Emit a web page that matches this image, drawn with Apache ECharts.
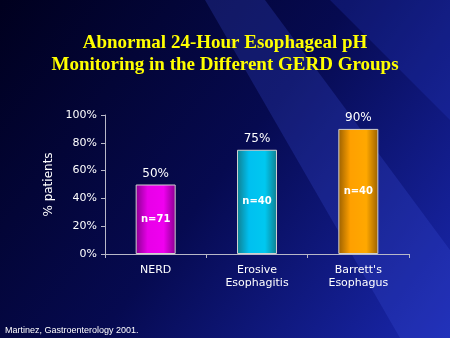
<!DOCTYPE html>
<html><head><meta charset="utf-8">
<script src="https://cdn.jsdelivr.net/npm/echarts@6/dist/echarts.min.js"></script>
<style>html,body{margin:0;padding:0;background:#000028;}#c{width:450px;height:338px;}</style>
</head><body><div id="c"></div>
<script>
const categories = ["NERD", "Erosive\nEsophagitis", "Barrett's\nEsophagus"];
const values = [50, 75, 90];
const nLabels = ["n=71", "n=40", "n=40"];
const yTicks = ["0%", "20%", "40%", "60%", "80%", "100%"];
const barColors = [
  ["#8a0090", "#e800e8", "#f000f0", "#8a0090"],
  ["#107f90", "#00c0f0", "#00c8f0", "#107f90"],
  ["#9a6000", "#ffa000", "#ffa800", "#9a6000"]
];
function grad(c){return new echarts.graphic.LinearGradient(0,0,1,0,[
  {offset:0,color:c[0]},{offset:0.3,color:c[1]},{offset:0.7,color:c[2]},{offset:1,color:c[3]}]);}
const chart = echarts.init(document.getElementById('c'), null, {renderer:'canvas'});
chart.setOption({
  animation:false,
  backgroundColor: new echarts.graphic.LinearGradient(0,0,1,1,[
    {offset:0,color:'#00001e'},{offset:0.5,color:'#060a50'},{offset:1,color:'#1a28b0'}]),
  graphic:[
    {type:'polygon',silent:true,z:-10,shape:{points:[[205,0],[265,0],[450,250],[450,338],[400,338]]},
     style:{fill:'rgba(60,80,220,0.25)'}},
    {type:'polygon',silent:true,z:-10,shape:{points:[[330,0],[450,0],[450,120]]},
     style:{fill:'rgba(40,60,200,0.25)'}},
    {type:'text',left:'center',top:32,style:{text:'Abnormal 24-Hour Esophageal pH\nMonitoring in the Different GERD Groups',
      fill:'#ffff00',font:'bold 19px "Liberation Serif"',textAlign:'center',lineHeight:22}},
    {type:'text',left:5,top:326,style:{text:'Martinez, Gastroenterology 2001.',fill:'#ffffff',font:'9px "Liberation Sans"'}}
  ],
  grid:{left:105,right:41,top:115,bottom:84},
  xAxis:{type:'category',data:categories,
    axisLine:{lineStyle:{color:'#b8b8c8',width:1}},
    axisTick:{show:true,length:4,lineStyle:{color:'#b8b8c8'}},
    axisLabel:{color:'#ffffff',fontFamily:'DejaVu Sans',fontSize:11,lineHeight:13,margin:10}},
  yAxis:{type:'value',min:0,max:100,interval:20,
    name:'% patients',nameLocation:'middle',nameRotate:90,nameGap:48,
    nameTextStyle:{color:'#ffffff',fontFamily:'DejaVu Sans',fontSize:12},
    axisLine:{show:true,lineStyle:{color:'#b8b8c8'}},
    axisTick:{show:true,length:4,lineStyle:{color:'#b8b8c8'}},
    splitLine:{show:false},
    axisLabel:{color:'#ffffff',fontFamily:'DejaVu Sans',fontSize:11,margin:8,
      formatter:function(v){return yTicks[v/20];}}},
  series:[{type:'bar',barWidth:40,
    data:values.map((v,i)=>({value:v,itemStyle:{color:grad(barColors[i]),borderColor:'#d0d0d0',borderWidth:1}})),
    label:{show:true,position:'top',color:'#ffffff',fontFamily:'DejaVu Sans',fontSize:12,distance:5,formatter:'{c}%'}
  },{type:'bar',barWidth:40,barGap:'-100%',silent:true,
    data:values.map(v=>({value:v,itemStyle:{color:'transparent'}})),
    label:{show:true,position:'inside',color:'#ffffff',fontFamily:'DejaVu Sans',fontWeight:'bold',fontSize:10,
      formatter:function(p){return nLabels[p.dataIndex];}}
  }]
});
</script></body></html>
